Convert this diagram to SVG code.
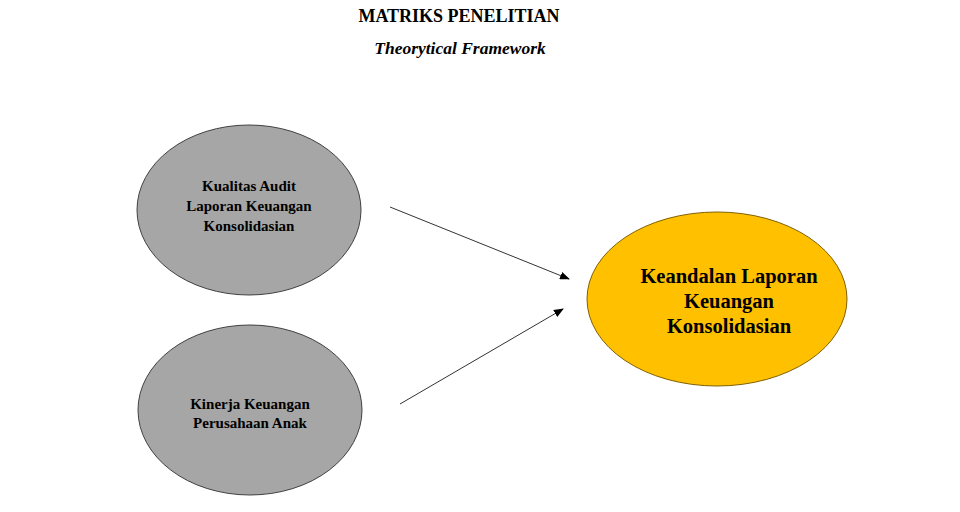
<svg xmlns="http://www.w3.org/2000/svg" width="960" height="512" viewBox="0 0 960 512">
<defs>
<marker id="ah" markerWidth="10" markerHeight="8" refX="9" refY="4" orient="auto" markerUnits="userSpaceOnUse">
<path d="M0,0 L10,4 L0,8 z" fill="#000"/>
</marker>
<style>
.t{font-family:"Liberation Serif","Times New Roman",serif;font-weight:bold;fill:#000;text-anchor:middle}
.g{fill:#a6a6a6;stroke:#404040;stroke-width:1}
.y{fill:#ffc000;stroke:#7f6000;stroke-width:1}
.c{stroke:#333;stroke-width:1;fill:none;marker-end:url(#ah)}
</style>
</defs>
<rect width="960" height="512" fill="#fff"/>
<text class="t" x="459" y="22" font-size="18">MATRIKS PENELITIAN</text>
<text class="t" x="460" y="54" font-size="17.5" font-style="italic">Theorytical Framework</text>
<g id="n1">
<ellipse class="g" cx="249" cy="210" rx="112" ry="85"/>
<text class="t" font-size="15"><tspan x="249" y="191">Kualitas Audit</tspan><tspan x="249" y="211">Laporan Keuangan</tspan><tspan x="249" y="231">Konsolidasian</tspan></text>
</g>
<g id="n2">
<ellipse class="g" cx="250" cy="410" rx="112" ry="85"/>
<text class="t" font-size="15"><tspan x="250" y="409">Kinerja Keuangan</tspan><tspan x="250" y="428">Perusahaan Anak</tspan></text>
</g>
<g id="n3">
<ellipse class="y" cx="717" cy="299" rx="130" ry="87"/>
<text class="t" font-size="20.5"><tspan x="729" y="283">Keandalan Laporan</tspan><tspan x="729" y="308">Keuangan</tspan><tspan x="729" y="333">Konsolidasian</tspan></text>
</g>
<g id="connectors">
<line class="c" x1="390" y1="207" x2="569" y2="279"/>
<line class="c" x1="400" y1="404" x2="563" y2="309"/>
</g>
</svg>
